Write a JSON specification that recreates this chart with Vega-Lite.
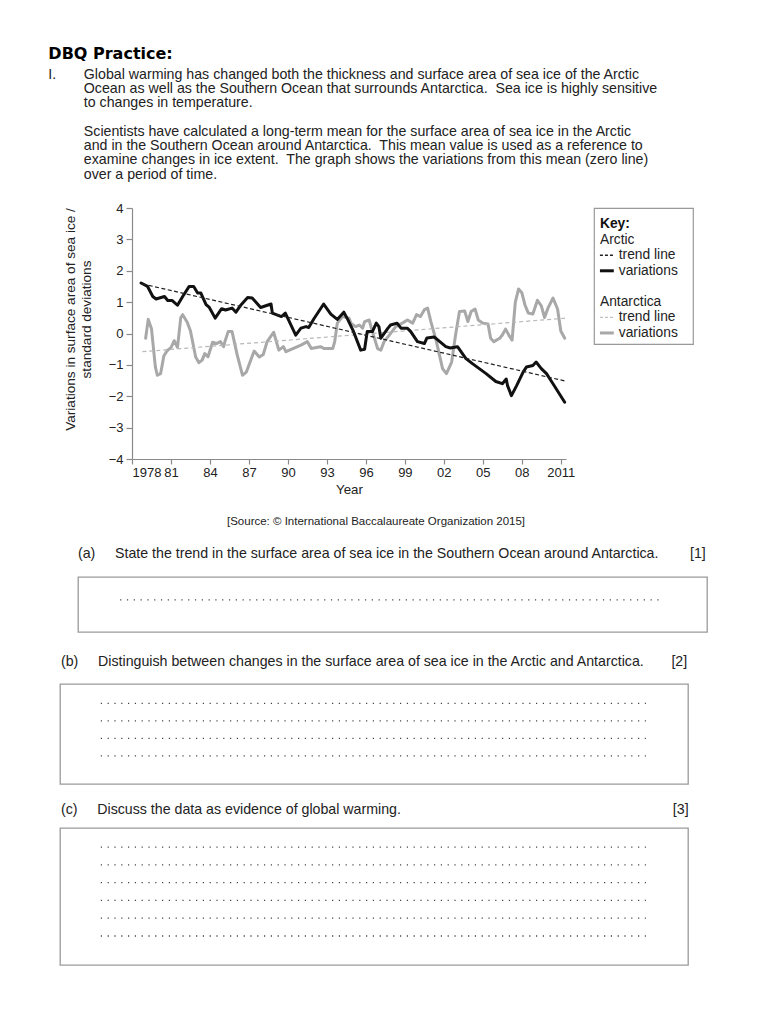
{
  "$schema": "https://vega.github.io/schema/vega-lite/v6.json",
  "background": "white",
  "padding": {"left": 48, "top": 45, "right": 10, "bottom": 10},
  "config": {"font": "Liberation Sans", "view": {"stroke": null}},
  "title": {
    "text": "DBQ Practice:",
    "subtitle": [
      "I.\u00a0\u00a0\u00a0\u00a0\u00a0\u00a0\u00a0Global warming has changed both the thickness and surface area of sea ice of the Arctic",
      "\u200b\u00a0\u00a0\u00a0\u00a0\u00a0\u00a0\u00a0\u00a0\u00a0Ocean as well as the Southern Ocean that surrounds Antarctica.\u00a0 Sea ice is highly sensitive",
      "\u200b\u00a0\u00a0\u00a0\u00a0\u00a0\u00a0\u00a0\u00a0\u00a0to changes in temperature.",
      "\u200b\u00a0",
      "\u200b\u00a0\u00a0\u00a0\u00a0\u00a0\u00a0\u00a0\u00a0\u00a0Scientists have calculated a long-term mean for the surface area of sea ice in the Arctic",
      "\u200b\u00a0\u00a0\u00a0\u00a0\u00a0\u00a0\u00a0\u00a0\u00a0and in the Southern Ocean around Antarctica.\u00a0 This mean value is used as a reference to",
      "\u200b\u00a0\u00a0\u00a0\u00a0\u00a0\u00a0\u00a0\u00a0\u00a0examine changes in ice extent.\u00a0 The graph shows the variations from this mean (zero line)",
      "\u200b\u00a0\u00a0\u00a0\u00a0\u00a0\u00a0\u00a0\u00a0\u00a0over a period of time."
    ],
    "anchor": "start",
    "frame": "bounds",
    "dx": -11,
    "font": "DejaVu Sans",
    "fontSize": 16,
    "fontWeight": "bold",
    "color": "#000000",
    "subtitleFont": "Liberation Sans",
    "subtitleFontSize": 14.2,
    "subtitleColor": "#222222",
    "subtitleLineHeight": 14.3,
    "subtitlePadding": 6,
    "offset": 20
  },
  "datasets": {
    "arctic": [
      {"year": 1978.7, "value": 1.61}, {"year": 1979.2, "value": 1.5}, {"year": 1979.6, "value": 1.18}, {"year": 1979.85, "value": 1.1},
      {"year": 1980.5, "value": 1.18}, {"year": 1980.75, "value": 1.05}, {"year": 1981.1, "value": 1.05}, {"year": 1981.5, "value": 0.9},
      {"year": 1981.9, "value": 1.18}, {"year": 1982.4, "value": 1.5}, {"year": 1982.75, "value": 1.5}, {"year": 1983.05, "value": 1.29},
      {"year": 1983.3, "value": 1.29}, {"year": 1983.7, "value": 0.92}, {"year": 1983.95, "value": 0.83}, {"year": 1984.4, "value": 0.49},
      {"year": 1984.9, "value": 0.79}, {"year": 1985.2, "value": 0.75}, {"year": 1985.7, "value": 0.81}, {"year": 1986.0, "value": 0.68},
      {"year": 1986.4, "value": 0.92}, {"year": 1986.9, "value": 1.15}, {"year": 1987.25, "value": 1.13}, {"year": 1987.9, "value": 0.83},
      {"year": 1988.7, "value": 0.94}, {"year": 1988.8, "value": 0.65}, {"year": 1989.5, "value": 0.54}, {"year": 1989.8, "value": 0.65},
      {"year": 1990.6, "value": -0.05}, {"year": 1991.0, "value": 0.17}, {"year": 1991.4, "value": 0.22}, {"year": 1991.6, "value": 0.19},
      {"year": 1992.0, "value": 0.47}, {"year": 1992.75, "value": 0.94}, {"year": 1993.3, "value": 0.62}, {"year": 1993.8, "value": 0.45},
      {"year": 1994.3, "value": 0.68}, {"year": 1994.6, "value": 0.45}, {"year": 1995.0, "value": 0.11}, {"year": 1995.6, "value": -0.53},
      {"year": 1995.9, "value": -0.5}, {"year": 1996.1, "value": 0.06}, {"year": 1996.5, "value": 0.06}, {"year": 1996.8, "value": 0.33},
      {"year": 1997.0, "value": 0.22}, {"year": 1997.15, "value": -0.15}, {"year": 1997.7, "value": 0.17}, {"year": 1997.9, "value": 0.27},
      {"year": 1998.4, "value": 0.33}, {"year": 1998.7, "value": 0.17}, {"year": 1999.2, "value": 0.17}, {"year": 1999.45, "value": 0.06},
      {"year": 1999.97, "value": -0.26}, {"year": 2000.5, "value": -0.32}, {"year": 2000.7, "value": -0.14}, {"year": 2001.25, "value": -0.11},
      {"year": 2002.15, "value": -0.42}, {"year": 2002.5, "value": -0.46}, {"year": 2003.05, "value": -0.42}, {"year": 2003.7, "value": -0.8},
      {"year": 2004.2, "value": -0.96}, {"year": 2005.25, "value": -1.28}, {"year": 2006.0, "value": -1.53}, {"year": 2006.5, "value": -1.6},
      {"year": 2006.8, "value": -1.45}, {"year": 2006.9, "value": -1.66}, {"year": 2007.2, "value": -1.98}, {"year": 2007.6, "value": -1.66},
      {"year": 2008.1, "value": -1.23}, {"year": 2008.35, "value": -1.07}, {"year": 2008.85, "value": -1.02}, {"year": 2009.1, "value": -0.91},
      {"year": 2009.5, "value": -1.12}, {"year": 2009.9, "value": -1.28}, {"year": 2010.4, "value": -1.6}, {"year": 2011.3, "value": -2.19}
    ],
    "antarctica": [
      {"year": 1979.05, "value": -0.15}, {"year": 1979.25, "value": 0.45}, {"year": 1979.5, "value": 0.15}, {"year": 1979.8, "value": -1.07},
      {"year": 1979.95, "value": -1.33}, {"year": 1980.2, "value": -1.28}, {"year": 1980.45, "value": -0.72}, {"year": 1980.7, "value": -0.55},
      {"year": 1981.0, "value": -0.45}, {"year": 1981.25, "value": -0.23}, {"year": 1981.5, "value": -0.44}, {"year": 1981.75, "value": 0.5},
      {"year": 1981.9, "value": 0.6}, {"year": 1982.25, "value": 0.36}, {"year": 1982.5, "value": 0.08}, {"year": 1982.9, "value": -0.75},
      {"year": 1983.15, "value": -0.93}, {"year": 1983.4, "value": -0.85}, {"year": 1983.6, "value": -0.64}, {"year": 1983.85, "value": -0.74},
      {"year": 1984.2, "value": -0.28}, {"year": 1984.5, "value": -0.32}, {"year": 1984.8, "value": -0.26}, {"year": 1985.05, "value": -0.42},
      {"year": 1985.15, "value": -0.26}, {"year": 1985.4, "value": 0.06}, {"year": 1985.7, "value": 0.06}, {"year": 1986.1, "value": -0.69},
      {"year": 1986.5, "value": -1.33}, {"year": 1986.8, "value": -1.23}, {"year": 1987.4, "value": -0.56}, {"year": 1987.8, "value": -0.75},
      {"year": 1988.1, "value": -0.67}, {"year": 1988.4, "value": -0.26}, {"year": 1988.9, "value": 0.04}, {"year": 1989.3, "value": -0.53},
      {"year": 1989.65, "value": -0.42}, {"year": 1989.85, "value": -0.58}, {"year": 1991.0, "value": -0.37}, {"year": 1991.5, "value": -0.26},
      {"year": 1991.8, "value": -0.48}, {"year": 1992.5, "value": -0.42}, {"year": 1992.8, "value": -0.48}, {"year": 1993.45, "value": -0.48},
      {"year": 1993.6, "value": -0.26}, {"year": 1993.8, "value": 0.33}, {"year": 1994.2, "value": 0.54}, {"year": 1994.7, "value": 0.49},
      {"year": 1994.85, "value": 0.33}, {"year": 1995.2, "value": 0.22}, {"year": 1995.5, "value": 0.27}, {"year": 1995.75, "value": 0.17},
      {"year": 1995.9, "value": 0.38}, {"year": 1996.25, "value": 0.43}, {"year": 1996.5, "value": 0.06}, {"year": 1996.9, "value": -0.48},
      {"year": 1997.15, "value": -0.53}, {"year": 1997.4, "value": -0.26}, {"year": 1997.8, "value": -0.05}, {"year": 1998.3, "value": 0.22},
      {"year": 1998.8, "value": 0.33}, {"year": 1999.2, "value": 0.43}, {"year": 1999.6, "value": 0.33}, {"year": 1999.9, "value": 0.6},
      {"year": 2000.2, "value": 0.54}, {"year": 2000.5, "value": 0.76}, {"year": 2000.75, "value": 0.81}, {"year": 2001.0, "value": 0.38},
      {"year": 2001.4, "value": -0.21}, {"year": 2001.9, "value": -1.12}, {"year": 2002.2, "value": -1.28}, {"year": 2002.6, "value": -0.91},
      {"year": 2002.9, "value": -0.05}, {"year": 2003.2, "value": 0.7}, {"year": 2003.6, "value": 0.72}, {"year": 2003.85, "value": 0.38},
      {"year": 2004.1, "value": 0.7}, {"year": 2004.4, "value": 0.78}, {"year": 2004.65, "value": 0.43}, {"year": 2005.0, "value": 0.33},
      {"year": 2005.4, "value": 0.3}, {"year": 2005.6, "value": -0.15}, {"year": 2005.85, "value": -0.26}, {"year": 2006.3, "value": -0.15},
      {"year": 2006.5, "value": -0.05}, {"year": 2006.75, "value": 0.14}, {"year": 2007.0, "value": -0.05}, {"year": 2007.25, "value": -0.21},
      {"year": 2007.5, "value": 1.0}, {"year": 2007.75, "value": 1.42}, {"year": 2008.0, "value": 1.3}, {"year": 2008.25, "value": 0.9},
      {"year": 2008.5, "value": 0.65}, {"year": 2008.85, "value": 0.62}, {"year": 2009.2, "value": 1.06}, {"year": 2009.5, "value": 0.88},
      {"year": 2009.75, "value": 0.51}, {"year": 2010.0, "value": 0.8}, {"year": 2010.4, "value": 1.13}, {"year": 2010.75, "value": 0.78},
      {"year": 2011.0, "value": 0.08}, {"year": 2011.3, "value": -0.15}
    ],
    "arcticTrend": [{"year": 1978.8, "value": 1.58}, {"year": 2011.4, "value": -1.52}],
    "antarcticaTrend": [{"year": 1978.8, "value": -0.58}, {"year": 2011.4, "value": 0.49}],
    "zero": [{"value": 0}],
    "key": [
      {"row": 0, "label": "Key:", "kind": "head"},
      {"row": 1, "label": "Arctic", "kind": "group"},
      {"row": 2, "label": "trend line", "kind": "entry", "sym": "Arctic trend"},
      {"row": 3, "label": "variations", "kind": "entry", "sym": "Arctic variations"},
      {"row": 5, "label": "Antarctica", "kind": "group"},
      {"row": 6, "label": "trend line", "kind": "entry", "sym": "Antarctica trend"},
      {"row": 7, "label": "variations", "kind": "entry", "sym": "Antarctica variations"}
    ],
    "linesA": [{"line": 1}],
    "linesB": [{"line": 1}, {"line": 2}, {"line": 3}, {"line": 4}],
    "linesC": [{"line": 1}, {"line": 2}, {"line": 3}, {"line": 4}, {"line": 5}, {"line": 6}],
    "empty": []
  },
  "spacing": 18,
  "vconcat": [
    {
      "spacing": 0,
      "hconcat": [
        {"width": 3, "height": 10, "data": {"name": "empty"}, "mark": "point"},
        {
          "spacing": 18,
          "hconcat": [
            {
              "width": 434,
              "height": 251,
              "title": {"text": "[Source: © International Baccalaureate Organization 2015]", "orient": "bottom", "anchor": "middle", "dx": 27, "offset": 21, "font": "Liberation Sans", "fontSize": 11.5, "fontWeight": "normal", "color": "#222222"},
              "encoding": {
                "x": {
                  "field": "year", "type": "quantitative",
                  "scale": {"domain": [1978, 2011.4], "nice": false, "zero": false},
                  "axis": {
                    "values": [1978, 1981, 1984, 1987, 1990, 1993, 1996, 1999, 2002, 2005, 2008, 2011],
                    "labelExpr": "(datum.value === 1978 || datum.value === 2011) ? '' + datum.value : substring('' + datum.value, 2)",
                    "title": "Year", "titleFontSize": 13.3, "titleFontWeight": "normal", "titleColor": "#222222", "titlePadding": 3,
                    "labelFontSize": 13, "labelColor": "#222222", "labelPadding": 2,
                    "tickSize": 5, "tickColor": "#8a8a8a", "tickWidth": 1.2, "domainColor": "#8a8a8a", "domainWidth": 1.2, "grid": false
                  }
                },
                "y": {
                  "field": "value", "type": "quantitative",
                  "scale": {"domain": [-4, 4], "nice": false},
                  "axis": {
                    "values": [-4, -3.5, -3, -2.5, -2, -1.5, -1, -0.5, 0, 0.5, 1, 1.5, 2, 2.5, 3, 3.5, 4],
                    "format": "d",
                    "labelExpr": "datum.value % 1 === 0 ? datum.label : ''",
                    "title": ["Variations in surface area of sea ice /", "standard deviations"],
                    "titleFontSize": 13.6, "titleFontWeight": "normal", "titleColor": "#222222", "titleLineHeight": 16, "titlePadding": 15, "titleY": 111,
                    "labelFontSize": 13, "labelColor": "#222222", "labelPadding": 3,
                    "tickSize": 6, "tickColor": "#8a8a8a", "tickWidth": 1.2, "domainColor": "#8a8a8a", "domainWidth": 1.2, "grid": false
                  }
                }
              },
              "layer": [
                {"data": {"name": "zero"}, "mark": {"type": "rule", "color": "#9e9e9e", "strokeWidth": 2}, "encoding": {"x": {"datum": 1978}, "x2": {"datum": 2011.4}}},
                {"data": {"name": "antarctica"}, "mark": {"type": "line", "color": "#a8a8a8", "strokeWidth": 3, "strokeJoin": "round", "strokeCap": "round"}},
                {"data": {"name": "antarcticaTrend"}, "mark": {"type": "line", "color": "#b8b8b8", "strokeWidth": 1.2, "strokeDash": [4, 3]}},
                {"data": {"name": "arctic"}, "mark": {"type": "line", "color": "#111111", "strokeWidth": 3, "strokeJoin": "round", "strokeCap": "round"}},
                {"data": {"name": "arcticTrend"}, "mark": {"type": "line", "color": "#222222", "strokeWidth": 1.2, "strokeDash": [4, 2.5]}}
              ]
            },
            {
              "width": 99,
              "height": 136,
              "view": {"stroke": "#999999", "strokeWidth": 1.2},
              "data": {"name": "key"},
              "encoding": {
                "y": {"field": "row", "type": "quantitative", "scale": {"domain": [-1.04, 7.71], "reverse": true}, "axis": null},
                "x": {"datum": 0.06, "type": "quantitative", "scale": {"domain": [0, 1]}, "axis": null}
              },
              "layer": [
                {"transform": [{"filter": "datum.kind === 'head'"}], "mark": {"type": "text", "align": "left", "baseline": "middle", "fontSize": 13.8, "fontWeight": "bold", "color": "#111111"}, "encoding": {"text": {"field": "label"}}},
                {"transform": [{"filter": "datum.kind === 'group'"}], "mark": {"type": "text", "align": "left", "baseline": "middle", "fontSize": 13.8, "color": "#222222"}, "encoding": {"text": {"field": "label"}}},
                {"transform": [{"filter": "datum.kind === 'entry'"}], "mark": {"type": "text", "align": "left", "baseline": "middle", "fontSize": 13.8, "color": "#222222"}, "encoding": {"text": {"field": "label"}, "x": {"datum": 0.25}}},
                {"transform": [{"filter": "datum.sym === 'Arctic trend'"}], "mark": {"type": "rule", "color": "#222222", "strokeWidth": 1.4, "strokeDash": [3, 2]}, "encoding": {"x2": {"datum": 0.21}}},
                {"transform": [{"filter": "datum.sym === 'Arctic variations'"}], "mark": {"type": "rule", "color": "#111111", "strokeWidth": 3}, "encoding": {"x2": {"datum": 0.2}}},
                {"transform": [{"filter": "datum.sym === 'Antarctica trend'"}], "mark": {"type": "rule", "color": "#c0c0c0", "strokeWidth": 1.4, "strokeDash": [3, 2]}, "encoding": {"x2": {"datum": 0.21}}},
                {"transform": [{"filter": "datum.sym === 'Antarctica variations'"}], "mark": {"type": "rule", "color": "#a8a8a8", "strokeWidth": 3}, "encoding": {"x2": {"datum": 0.2}}}
              ]
            }
          ]
        }
      ]
    },
    {
      "spacing": 21,
      "vconcat": [
        {
          "spacing": 0,
          "hconcat": [
            {"width": 17, "height": 10, "data": {"name": "empty"}, "mark": "point"},
            {
              "width": 629,
              "height": 55,
              "view": {"stroke": "#9a9a9a", "strokeWidth": 1.3},
              "title": {"text": "(a)\u00a0\u00a0\u00a0\u00a0\u00a0State the trend in the surface area of sea ice in the Southern Ocean around Antarctica.\u00a0\u00a0\u00a0\u00a0\u00a0\u00a0\u00a0\u00a0[1]", "anchor": "start", "offset": 16, "font": "Liberation Sans", "fontSize": 14.2, "fontWeight": "normal", "color": "#222222"},
              "data": {"name": "linesA"},
              "mark": {"type": "rule", "color": "#444444", "strokeWidth": 1.3, "strokeDash": [1.2, 5.6]},
              "encoding": {
                "y": {"field": "line", "type": "quantitative", "scale": {"domain": [-0.29, 2.8], "reverse": true}, "axis": null},
                "x": {"datum": 0.067, "type": "quantitative", "scale": {"domain": [0, 1]}, "axis": null},
                "x2": {"datum": 0.93}
              }
            }
          ]
        },
        {
          "spacing": 17,
          "vconcat": [
            {
              "width": 628,
              "height": 100,
              "view": {"stroke": "#9a9a9a", "strokeWidth": 1.3},
              "title": {"text": "(b)\u00a0\u00a0\u00a0\u00a0\u00a0Distinguish between changes in the surface area of sea ice in the Arctic and Antarctica.\u00a0\u00a0\u00a0\u00a0\u00a0\u00a0\u00a0[2]", "anchor": "start", "dx": 1, "offset": 15, "font": "Liberation Sans", "fontSize": 14.2, "fontWeight": "normal", "color": "#222222"},
              "data": {"name": "linesB"},
              "mark": {"type": "rule", "color": "#444444", "strokeWidth": 1.3, "strokeDash": [1.2, 5.6]},
              "encoding": {
                "y": {"field": "line", "type": "quantitative", "scale": {"domain": [-0.1, 5.6], "reverse": true}, "axis": null},
                "x": {"datum": 0.065, "type": "quantitative", "scale": {"domain": [0, 1]}, "axis": null},
                "x2": {"datum": 0.933}
              }
            },
            {
              "width": 628,
              "height": 137,
              "view": {"stroke": "#9a9a9a", "strokeWidth": 1.3},
              "title": {"text": "(c)\u00a0\u00a0\u00a0\u00a0\u00a0Discuss the data as evidence of global warming.\u00a0\u00a0\u00a0\u00a0\u00a0\u00a0\u00a0\u00a0\u00a0\u00a0\u00a0\u00a0\u00a0\u00a0\u00a0\u00a0\u00a0\u00a0\u00a0\u00a0\u00a0\u00a0\u00a0\u00a0\u00a0\u00a0\u00a0\u00a0\u00a0\u00a0\u00a0\u00a0\u00a0\u00a0\u00a0\u00a0\u00a0\u00a0\u00a0\u00a0\u00a0\u00a0\u00a0\u00a0\u00a0\u00a0\u00a0\u00a0\u00a0\u00a0\u00a0\u00a0\u00a0\u00a0\u00a0\u00a0\u00a0\u00a0\u00a0\u00a0\u00a0\u00a0\u00a0\u00a0\u00a0\u00a0\u00a0\u00a0\u00a0[3]", "anchor": "start", "dx": 1, "offset": 11, "font": "Liberation Sans", "fontSize": 14.2, "fontWeight": "normal", "color": "#222222"},
              "data": {"name": "linesC"},
              "mark": {"type": "rule", "color": "#444444", "strokeWidth": 1.3, "strokeDash": [1.2, 5.6]},
              "encoding": {
                "y": {"field": "line", "type": "quantitative", "scale": {"domain": [-0.07, 7.63], "reverse": true}, "axis": null},
                "x": {"datum": 0.065, "type": "quantitative", "scale": {"domain": [0, 1]}, "axis": null},
                "x2": {"datum": 0.933}
              }
            }
          ]
        }
      ]
    }
  ]
}
